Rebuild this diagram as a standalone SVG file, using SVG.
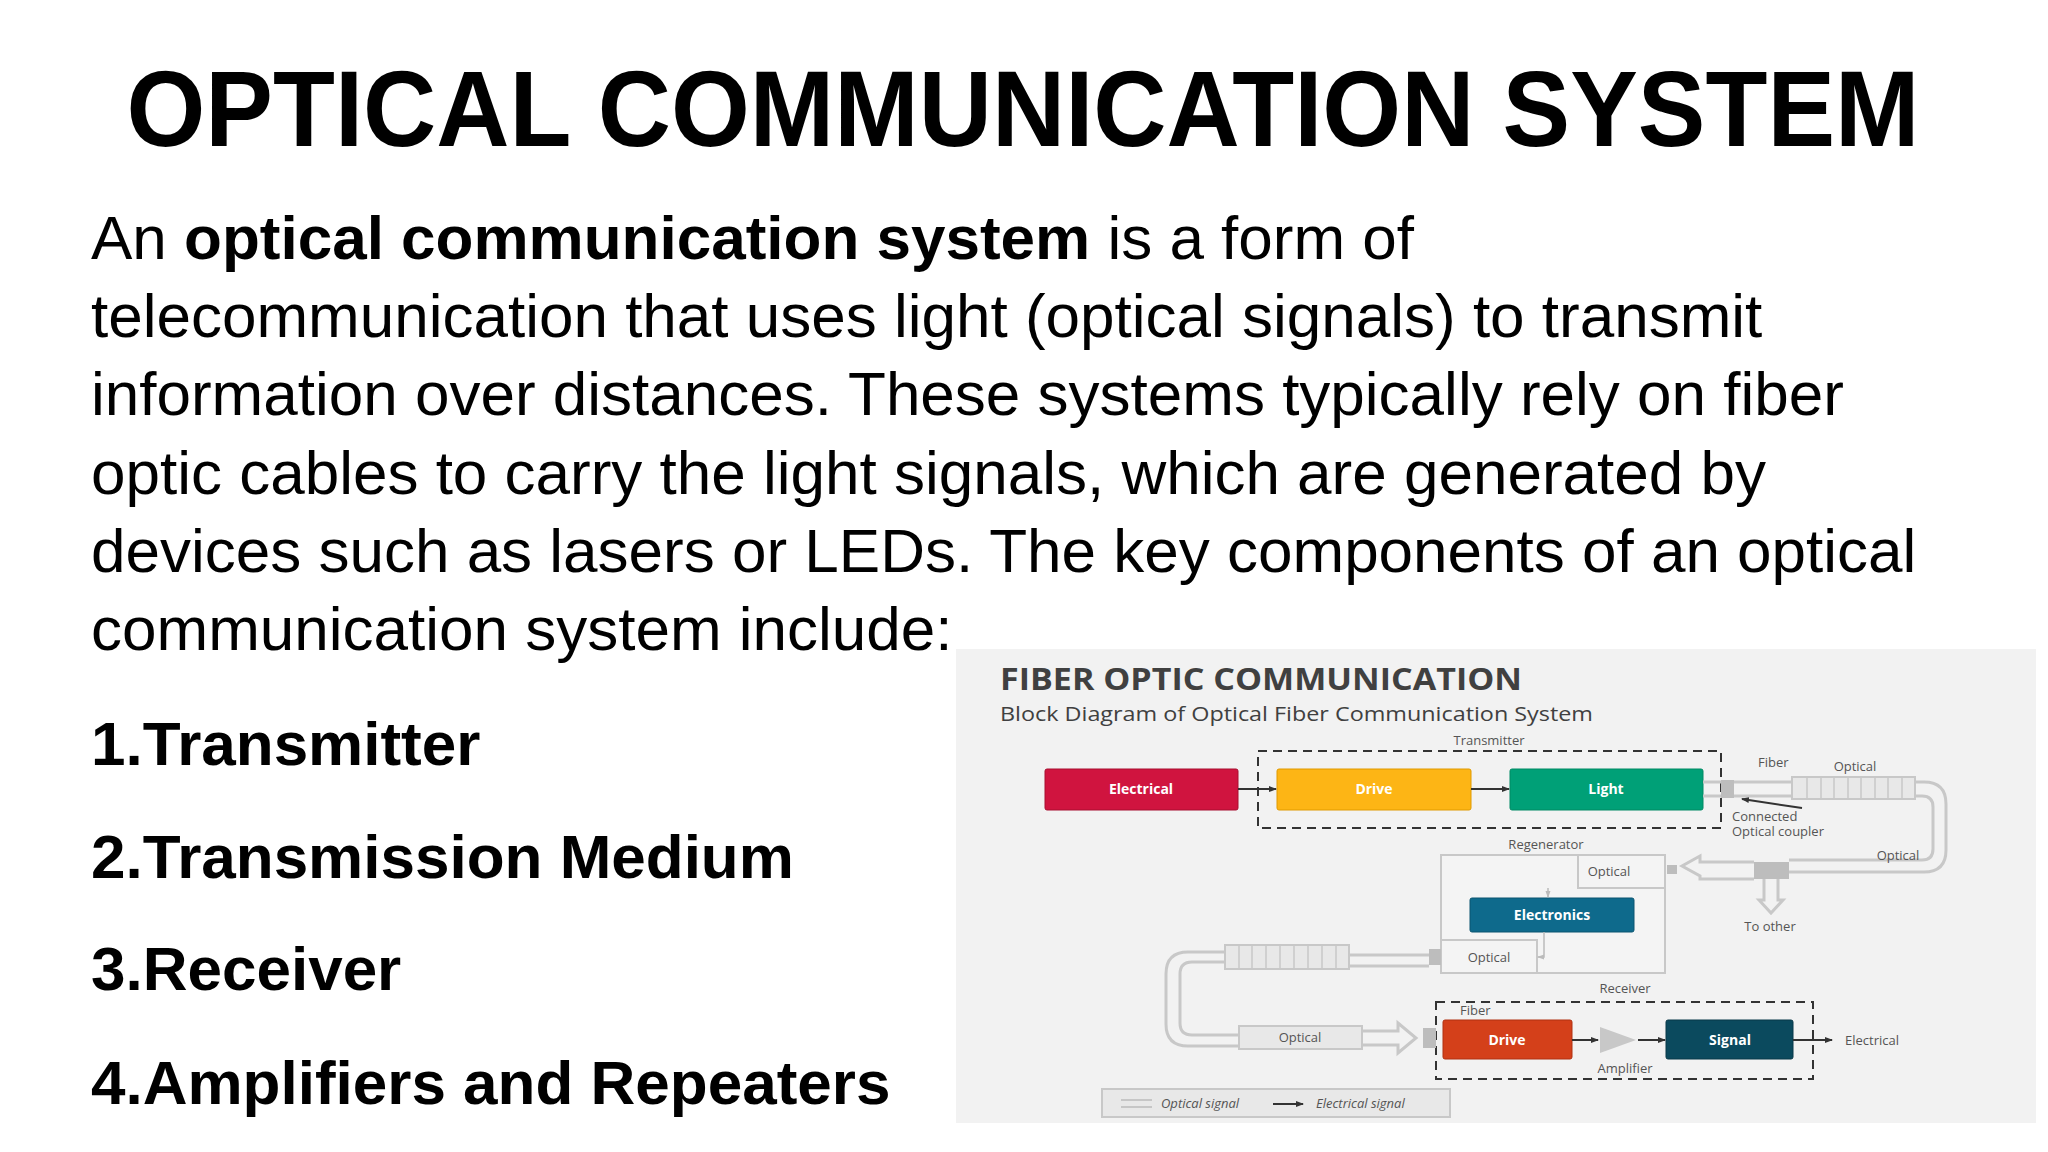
<svg xmlns="http://www.w3.org/2000/svg" width="2048" height="1152" viewBox="0 0 2048 1152">
<style>
.main{font-family:"Liberation Sans",Arial,sans-serif;fill:#000}
.d{font-family:"Open Sans","Liberation Sans",sans-serif;fill:#555;font-size:13px}
.bt{font-family:"Open Sans","Liberation Sans",sans-serif;font-weight:bold;fill:#fff;font-size:14px;text-anchor:middle}
.gl{fill:none;stroke:#c8c8c8;stroke-width:3}
.gb{fill:#e8e8e8;stroke:#c8c8c8;stroke-width:2}
.wb{fill:#f4f4f4;stroke:#c8c8c8;stroke-width:2}
.dash{fill:none;stroke:#333;stroke-width:2;stroke-dasharray:9 6}
.ea{stroke:#333;stroke-width:2;marker-end:url(#ah)}
.ta{stroke:#bbb;stroke-width:1.5;fill:none;marker-end:url(#ah2)}
.cp{fill:#bdbdbd}
</style>
<defs>
<marker id="ah" markerWidth="8" markerHeight="8" refX="7" refY="4" orient="auto" markerUnits="userSpaceOnUse"><path d="M0,1 L8,4 L0,7 z" fill="#333"/></marker>
<marker id="ah2" markerWidth="7" markerHeight="7" refX="6" refY="3.5" orient="auto" markerUnits="userSpaceOnUse"><path d="M0,1 L7,3.5 L0,6 z" fill="#bbb"/></marker>
</defs>
<rect width="2048" height="1152" fill="#fff"/>
<text class="main" x="1023" y="146" font-size="108" font-weight="bold" text-anchor="middle" textLength="1793" lengthAdjust="spacingAndGlyphs">OPTICAL COMMUNICATION SYSTEM</text>
<g class="main" font-size="62">
<text x="91" y="259">An <tspan font-weight="bold">optical communication system</tspan> is a form of</text>
<text x="91" y="337">telecommunication that uses light (optical signals) to transmit</text>
<text x="91" y="415">information over distances. These systems typically rely on fiber</text>
<text x="91" y="494">optic cables to carry the light signals, which are generated by</text>
<text x="91" y="572">devices such as lasers or LEDs. The key components of an optical</text>
<text x="91" y="650">communication system include:</text>
</g>
<g class="main" font-size="62" font-weight="bold">
<text x="91" y="765">1.Transmitter</text>
<text x="91" y="878">2.Transmission Medium</text>
<text x="91" y="990">3.Receiver</text>
<text x="91" y="1104">4.Amplifiers and Repeaters</text>
</g>
<g id="panel">
<rect x="956" y="649" width="1080" height="474" fill="#f2f2f2"/>
<text x="1000" y="690" font-family="'Open Sans','Liberation Sans',sans-serif" font-weight="bold" font-size="30" fill="#404040" textLength="522" lengthAdjust="spacingAndGlyphs">FIBER OPTIC COMMUNICATION</text>
<text x="1000" y="721" font-family="'Open Sans','Liberation Sans',sans-serif" font-size="20" fill="#404040" textLength="593" lengthAdjust="spacingAndGlyphs">Block Diagram of Optical Fiber Communication System</text>
</g>
<g id="transmitter">
<rect class="dash" x="1258" y="751" width="463" height="77"/>
<text class="d" x="1489" y="745" text-anchor="middle">Transmitter</text>
</g>
<g id="electrical"><rect x="1045" y="769" width="193" height="41" rx="2" fill="#d0143f" stroke="#a80e30"/><text class="bt" x="1141" y="794">Electrical</text></g>
<g id="drive"><rect x="1277" y="769" width="194" height="41" rx="2" fill="#fdb515" stroke="#e09a00"/><text class="bt" x="1374" y="794">Drive</text></g>
<g id="light"><rect x="1510" y="769" width="193" height="41" rx="2" fill="#00a077" stroke="#008a65"/><text class="bt" x="1606" y="794">Light</text></g>
<g id="regenerator">
<rect class="wb" x="1441" y="855" width="224" height="118"/>
<text class="d" x="1546" y="849" text-anchor="middle">Regenerator</text>
<rect class="wb" x="1578" y="855" width="87" height="33"/>
<text class="d" x="1609" y="876" text-anchor="middle">Optical</text>
<rect x="1470" y="898" width="164" height="34" rx="2" fill="#0e6a8c" stroke="#0a5570"/>
<text class="bt" x="1552" y="920">Electronics</text>
<rect class="wb" x="1441" y="940" width="96" height="33"/>
<text class="d" x="1489" y="962" text-anchor="middle">Optical</text>
</g>
<g id="receiver">
<rect class="dash" x="1436" y="1002" width="377" height="77"/>
<text class="d" x="1625" y="993" text-anchor="middle">Receiver</text>
<text class="d" x="1460" y="1015">Fiber</text>
<rect x="1443" y="1020" width="129" height="39" rx="2" fill="#d4401a" stroke="#b03010"/>
<text class="bt" x="1507" y="1045">Drive</text>
<polygon points="1600,1027 1636,1040 1600,1053" fill="#c8c8c8"/>
<text class="d" x="1625" y="1073" text-anchor="middle">Amplifier</text>
<rect x="1666" y="1020" width="127" height="39" rx="2" fill="#0b4a5e" stroke="#083848"/>
<text class="bt" x="1730" y="1045">Signal</text>
<text class="d" x="1845" y="1045">Electrical</text>
</g>
<g id="connectors">
<line class="ea" x1="1238" y1="789" x2="1276" y2="789"/>
<line class="ea" x1="1471" y1="789" x2="1509" y2="789"/>
<line class="ea" x1="1572" y1="1040" x2="1598" y2="1040"/>
<line class="ea" x1="1638" y1="1040" x2="1665" y2="1040"/>
<line class="ea" x1="1793" y1="1040" x2="1832" y2="1040"/>
<path class="ta" d="M1548,888 V897"/>
<path class="ta" d="M1544,932 V957 H1538"/>
<path class="gl" d="M1703,782 H1792 M1703,796 H1792"/>
<rect class="cp" x="1721" y="780" width="13" height="18"/>
<path class="gl" d="M1915,782 H1924 Q1946,782 1946,804 V850 Q1946,872 1924,872 H1789 M1915,796 H1922 Q1933,796 1933,807 V849 Q1933,860 1922,860 H1789"/>
<rect class="gb" x="1792" y="777" width="123" height="22"/>
<path stroke="#c8c8c8" stroke-width="1.5" d="M1807,777V799M1821,777V799M1834,777V799M1848,777V799M1861,777V799M1875,777V799M1888,777V799M1902,777V799"/>
<text class="d" x="1758" y="767">Fiber</text>
<text class="d" x="1855" y="771" text-anchor="middle">Optical</text>
<text class="d" x="1732" y="821">Connected</text>
<text class="d" x="1732" y="836">Optical coupler</text>
<line x1="1802" y1="808" x2="1742" y2="799" stroke="#333" stroke-width="2" marker-end="url(#ah)"/>
<text class="d" x="1898" y="860" text-anchor="middle">Optical</text>
<path class="gl" d="M1754,862 H1700 V856 L1682,866 L1700,876 V879 H1754" stroke-width="2.5"/>
<rect class="cp" x="1754" y="862" width="35" height="17"/>
<path class="gl" d="M1764,879 V900 H1759 L1771,913 L1783,900 H1778 V879" stroke-width="2.5"/>
<text class="d" x="1770" y="931" text-anchor="middle">To other</text>
<rect class="cp" x="1667" y="865" width="10" height="9"/>
<path class="gl" d="M1349,955 H1429 M1349,966 H1429"/>
<rect class="cp" x="1429" y="949" width="12" height="16"/>
<path class="gl" d="M1225,952 H1188 Q1166,952 1166,974 V1024 Q1166,1046 1188,1046 H1239 M1225,962 H1192 Q1180,962 1180,974 V1023 Q1180,1035 1192,1035 H1239"/>
<rect class="gb" x="1225" y="945" width="124" height="24"/>
<path stroke="#c8c8c8" stroke-width="1.5" d="M1239,945V969M1252,945V969M1266,945V969M1280,945V969M1294,945V969M1308,945V969M1322,945V969M1336,945V969"/>
<rect class="gb" x="1239" y="1026" width="123" height="23"/>
<text class="d" x="1300" y="1042" text-anchor="middle">Optical</text>
<path class="gl" d="M1362,1031 H1398 V1023 L1416,1038 L1398,1053 V1045 H1362" stroke-width="2.5"/>
<rect class="cp" x="1423" y="1028" width="13" height="20"/>
</g>
<g id="legend">
<rect class="gb" x="1102" y="1089" width="348" height="28"/>
<path stroke="#bbb" stroke-width="1.5" d="M1121,1100H1152M1121,1107H1152"/>
<text class="d" x="1161" y="1108" font-style="italic">Optical  signal</text>
<line class="ea" x1="1273" y1="1104" x2="1303" y2="1104"/>
<text class="d" x="1316" y="1108" font-style="italic">Electrical signal</text>
</g>
</svg>
